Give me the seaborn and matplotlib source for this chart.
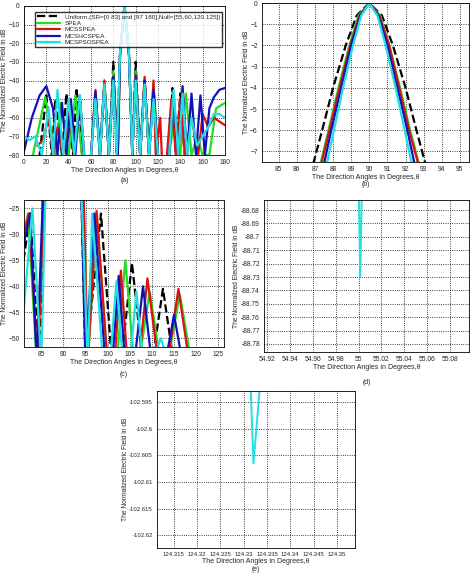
import matplotlib
matplotlib.use("Agg")
import matplotlib.pyplot as plt
import seaborn as sns

sns.set_style("white")
plt.rcParams['font.family'] = ['Liberation Sans', 'DejaVu Sans']

names = ["Uniform,(SR=[0 83] and [97 180],Null=[55,60,120,125])",
         "SPEA", "MCSSPEA", "MCSHCSPEA", "MCSPSOSPEA"]
colors = ["black", "#22dd22", "#dd1111", "#1111bb", "#22e0e0"]
styles = ["--", "-", "-", "-", "-"]

# panel (a): full pattern, angle / dB
a_x = [
    [14, 20, 25, 28, 34, 38, 44, 47, 52, 55, 60, 64, 68, 72, 76, 80, 83, 86, 90, 94, 97, 100, 104, 108, 112, 116, 120, 125, 130, 133, 136, 140, 144, 150],
    [8, 19, 28, 33, 40, 46, 52, 55, 60, 64, 68, 72, 76, 80, 84, 86, 90, 94, 97, 100, 104, 108, 112, 116, 120, 125, 130, 135, 140, 145, 150, 155, 160, 166, 172, 180],
    [12, 17, 22, 26, 30, 35, 40, 45, 50, 55, 60, 64, 68, 72, 76, 80, 84, 86, 90, 94, 97, 100, 104, 108, 112, 116, 118, 122, 125, 128, 132, 136, 140, 144, 150, 156, 160, 165, 170, 175, 180],
    [0, 7, 14, 20, 26, 30, 34, 38, 42, 46, 50, 55, 60, 64, 68, 72, 76, 80, 84, 86, 90, 94, 97, 100, 104, 108, 112, 116, 120, 125, 130, 134, 138, 142, 146, 150, 154, 158, 162, 166, 170, 175, 180],
    [0, 5, 10, 16, 22, 26, 30, 35, 40, 45, 50, 55, 60, 64, 68, 72, 76, 80, 83, 86, 90, 94, 97, 100, 104, 108, 112, 116, 120, 125, 130, 134, 138, 142, 146, 150, 155, 160, 165, 170, 175, 180],
]
a_y = [
    [-80, -48, -80, -50, -80, -47, -80, -44, -80, -89, -80, -50, -80, -42, -80, -30, -80, -26, 0, -26, -80, -30, -80, -40, -80, -44, -80, -103, -80, -44, -80, -47, -80, -80],
    [-80, -49, -80, -52, -80, -48, -80, -89, -80, -48, -80, -40, -80, -35, -80, -26, 0, -26, -80, -35, -80, -40, -80, -42, -80, -103, -80, -58, -80, -47, -80, -70, -80, -80, -55, -52],
    [-75, -72, -60, -80, -65, -80, -55, -80, -50, -89, -80, -45, -80, -40, -80, -38, -80, -26, 0, -26, -80, -37, -80, -38, -80, -40, -80, -60, -103, -80, -50, -80, -50, -80, -60, -80, -58, -65, -60, -62, -64],
    [-78, -60, -48, -43, -55, -80, -52, -80, -50, -80, -48, -89, -80, -46, -80, -42, -80, -38, -80, -26, 0, -26, -80, -38, -80, -40, -80, -45, -80, -103, -80, -48, -80, -43, -80, -47, -80, -48, -80, -55, -49, -45, -44],
    [-70, -72, -70, -80, -55, -80, -45, -80, -50, -80, -48, -89, -80, -50, -80, -42, -80, -40, -80, -25, 0, -25, -80, -40, -80, -42, -80, -50, -80, -103, -80, -45, -80, -47, -80, -60, -75, -70, -65, -58, -58, -60],
]

# panel (b): main beam
b_x = [
    [86.9, 87.4, 88.0, 88.7, 89.3, 90.0, 90.7, 91.3, 92.0, 92.6, 93.1],
    [87.3, 87.75, 88.3, 88.9, 89.4, 90.0, 90.6, 91.1, 91.7, 92.25, 92.75],
    [87.35, 87.8, 88.35, 88.95, 89.45, 90.0, 90.55, 91.1, 91.65, 92.2, 92.7],
    [87.5, 87.9, 88.45, 89.0, 89.5, 90.0, 90.5, 91.0, 91.55, 92.1, 92.5],
    [87.65, 88.05, 88.55, 89.1, 89.55, 90.0, 90.45, 90.9, 91.45, 91.95, 92.35],
]
b_y = [-7.6, -6, -4, -2, -0.6, 0, -0.6, -2, -4, -6, -7.6]

# panel (c): sidelobes near the main beam
c_x = [
    [81, 82.5, 84.5, 86, 94, 95, 98.5, 101, 103, 105.5, 108, 110, 112.5, 115],
    [81, 82, 84, 85.8, 94.5, 95.5, 97.5, 100, 102, 104, 106, 107, 109.5, 112, 113.5, 116.3, 119],
    [81, 82.2, 84.2, 85.8, 94.5, 95.5, 97.5, 100, 101.5, 103, 104.5, 107, 109, 111.5, 113.5, 116, 118.5],
    [81, 82.5, 84, 85.5, 94, 95, 97, 99.5, 101, 102.5, 104, 106, 108, 110, 113, 115, 117],
    [81, 83, 85, 86, 94, 95.5, 96.5, 99, 100.5, 102, 103.5, 105, 106.5, 108, 110, 112, 114],
]
c_y = [
    [-35, -26, -55, -20, -20, -55, -26, -55, -55, -35.5, -55, -55, -40.5, -55],
    [-30, -26, -55, -20, -20, -55, -26, -55, -55, -35, -55, -55, -41, -55, -55, -41.5, -55],
    [-30, -26, -55, -20, -20, -55, -25.5, -55, -55, -37, -55, -55, -38.5, -55, -55, -40.5, -55],
    [-32, -26, -55, -20, -20, -55, -26, -55, -55, -38, -55, -55, -40, -55, -55, -45.5, -55],
    [-45, -25, -55, -20, -20, -55, -26, -55, -55, -39, -55, -55, -41, -55, -55, -50, -55],
]

# panels (d), (e): null depth of MCSPSOSPEA
d_x = [55.0003, 55.0015, 55.0028]
d_y = [-88.67, -88.73, -88.67]
e_x = [124.3315, 124.3321, 124.3335]
e_y = [-102.592, -102.6065, -102.592]

fig = plt.figure(figsize=(4.74, 5.74), dpi=100)
W, H = 474, 574


def add_ax(x0, y0, x1, y1):
    return fig.add_axes([x0 / W, 1 - y1 / H, (x1 - x0) / W, (y1 - y0) / H])


def style(ax, xlab, ylab, tag, tag_y, fs=4.8):
    ax.grid(True, color="black", linestyle=":", linewidth=0.6)
    ax.tick_params(labelsize=fs, length=2, pad=1)
    ax.set_xlabel(xlab, fontsize=5, labelpad=0.5)
    ax.set_ylabel(ylab, fontsize=4.8, labelpad=0.5)
    for s in ax.spines.values():
        s.set_color("black")
        s.set_linewidth(0.6)
    bb = ax.get_position()
    fig.text(bb.x0 + bb.width / 2, 1 - tag_y / H, tag, fontsize=5, ha="center")


xl = "The Direction Angles in Degrees,θ"
yl = "The Normalized Electric Field in dB"

ax = add_ax(24, 6, 225, 155)
for i in range(5):
    sns.lineplot(x=a_x[i], y=a_y[i], ax=ax, color=colors[i], linestyle=styles[i],
                 lw=1.6, sort=False, estimator=None, label=names[i])
ax.set_xlim(0, 180)
ax.set_ylim(-80, 0)
ax.set_xticks(range(0, 181, 20))
ax.set_yticks(range(-80, 1, 10))
ax.legend(loc="upper left", fontsize=4.6, frameon=True, fancybox=False, edgecolor="black",
          handlelength=3.5, borderpad=0.3, labelspacing=0.15, bbox_to_anchor=(0.04, 0.98))
style(ax, xl, yl, "(a)", 182)

ax = add_ax(262, 3, 469, 162)
for i in range(5):
    sns.lineplot(x=b_x[i], y=b_y, ax=ax, color=colors[i], linestyle=styles[i],
                 lw=1.6, sort=False, estimator=None)
ax.set_xlim(84.08, 95.5)
ax.set_ylim(-7.5, 0)
ax.set_xticks(range(85, 96))
ax.set_yticks(range(-7, 1))
style(ax, xl, yl, "(b)", 186)

ax = add_ax(24, 200, 224, 347)
for i in range(5):
    sns.lineplot(x=c_x[i], y=c_y[i], ax=ax, color=colors[i], linestyle=styles[i],
                 lw=1.6, sort=False, estimator=None)
ax.set_xlim(81.1, 126.3)
ax.set_ylim(-51.7, -23.4)
ax.set_xticks(range(85, 126, 5))
ax.set_yticks(range(-50, -24, 5))
style(ax, xl, yl, "(c)", 376)

ax = add_ax(264, 200, 469, 352)
sns.lineplot(x=d_x, y=d_y, ax=ax, color=colors[4], lw=1.4, sort=False, estimator=None)
ax.set_xlim(54.917, 55.097)
ax.set_ylim(-88.786, -88.6725)
ax.set_xticks([54.92, 54.94, 54.96, 54.98, 55.0, 55.02, 55.04, 55.06, 55.08])
ax.set_xticklabels(["54.92", "54.94", "54.96", "54.98", "55", "55.02", "55.04", "55.06", "55.08"])
ax.set_yticks([-88.68 - 0.01 * k for k in range(11)])
ax.set_yticklabels(["-88.68", "-88.69", "-88.7", "-88.71", "-88.72", "-88.73", "-88.74",
                    "-88.75", "-88.76", "-88.77", "-88.78"])
style(ax, xl, yl, "(d)", 384)

ax = add_ax(157, 391, 355, 548)
sns.lineplot(x=e_x, y=e_y, ax=ax, color=colors[4], lw=1.4, sort=False, estimator=None)
ax.set_xlim(124.3114, 124.3539)
ax.set_ylim(-102.6224, -102.5929)
xt = [124.315, 124.32, 124.325, 124.33, 124.335, 124.34, 124.345, 124.35]
ax.set_xticks(xt)
ax.set_xticklabels(["124.315", "124.32", "124.325", "124.33", "124.335", "124.34", "124.345", "124.35"])
ax.set_yticks([-102.595, -102.6, -102.605, -102.61, -102.615, -102.62])
ax.set_yticklabels(["-102.595", "-102.6", "-102.605", "-102.61", "-102.615", "-102.62"])
style(ax, xl, yl, "(e)", 571, fs=4.3)

fig.savefig("out.png", dpi=100)
